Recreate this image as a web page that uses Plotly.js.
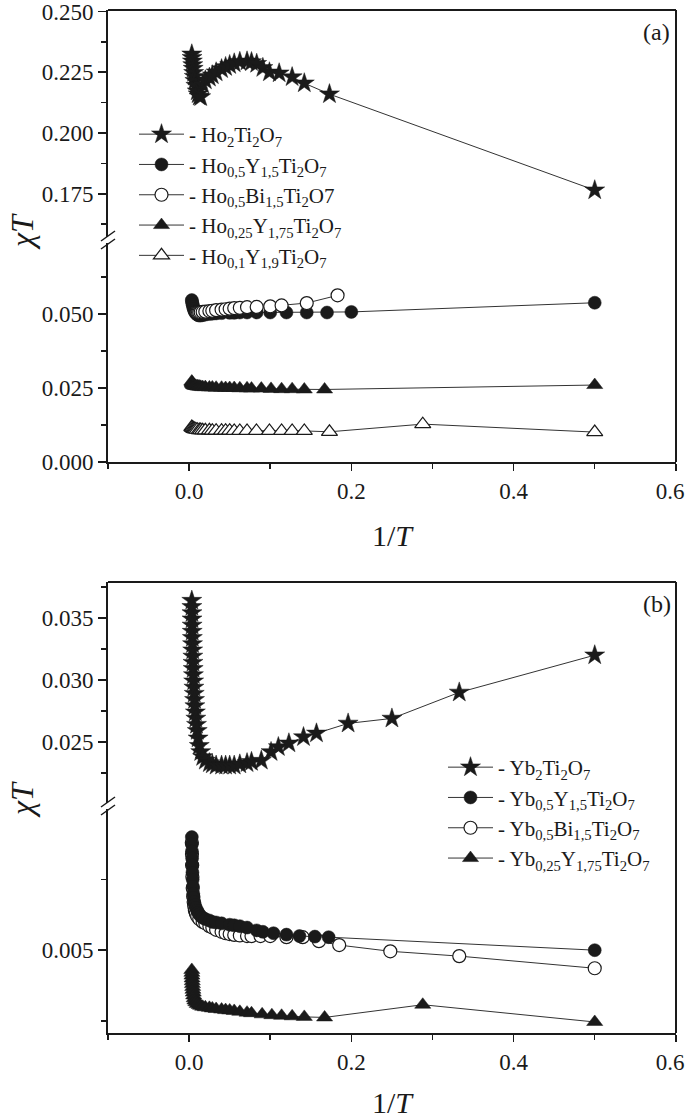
<!DOCTYPE html>
<html>
<head>
<meta charset="utf-8">
<script src="https://cdn.plot.ly/plotly-3.0.1.min.js"></script>
<style>html,body{margin:0;padding:0;background:#fff;}#chart{width:685px;height:1119px;}</style>
</head>
<body>
<div id="chart"></div>
<script>
// ---------- Panel (a) data ----------
const ho2_x = [0.0033,0.0036,0.004,0.0045,0.005,0.0056,0.0063,0.0071,0.0083,0.01,0.0111,0.0125,0.0143,0.0167,0.02,0.025,0.0286,0.0333,0.04,0.045,0.05,0.0556,0.0625,0.0714,0.0769,0.0833,0.0909,0.099,0.111,0.127,0.142,0.173,0.5];
const ho2_y = [0.2324,0.2310,0.2295,0.2280,0.2265,0.2248,0.2232,0.2215,0.2195,0.2172,0.2160,0.2150,0.2148,0.2200,0.2217,0.2228,0.2238,0.2250,0.2263,0.2272,0.2280,0.2287,0.2293,0.2295,0.2292,0.2285,0.2268,0.2250,0.2246,0.2230,0.2205,0.2160,0.1765];

const ho05y_x = [0.0033,0.0036,0.004,0.0045,0.005,0.0056,0.0063,0.0071,0.0083,0.01,0.0111,0.0125,0.0143,0.0167,0.02,0.025,0.0286,0.0333,0.04,0.05,0.0556,0.0625,0.0714,0.0833,0.1,0.12,0.145,0.17,0.2,0.5];
const ho05y_y = [0.0547,0.0542,0.0536,0.0530,0.0524,0.0518,0.0512,0.0507,0.0502,0.0498,0.0496,0.0495,0.0495,0.0496,0.0498,0.0500,0.0501,0.0502,0.0503,0.0504,0.0504,0.0505,0.0505,0.0505,0.0505,0.0505,0.0505,0.0505,0.0507,0.0538];

const ho05bi_x = [0.0091,0.01,0.0111,0.0125,0.0143,0.0167,0.02,0.025,0.0286,0.0333,0.04,0.045,0.05,0.0556,0.0625,0.0714,0.0833,0.1,0.114,0.145,0.183];
const ho05bi_y = [0.0506,0.0505,0.0505,0.0505,0.0506,0.0507,0.0508,0.0510,0.0511,0.0513,0.0515,0.0516,0.0518,0.0520,0.0521,0.0523,0.0524,0.0526,0.0529,0.0537,0.0563];

const ho025_x = [0.0033,0.0036,0.004,0.0045,0.005,0.0056,0.0063,0.0071,0.0083,0.01,0.0111,0.0125,0.0143,0.0167,0.02,0.025,0.0286,0.0333,0.04,0.045,0.05,0.0556,0.0625,0.0714,0.0769,0.089,0.101,0.114,0.127,0.142,0.167,0.5];
const ho025_y = [0.0272,0.0269,0.0266,0.0264,0.0262,0.0260,0.0259,0.0258,0.0257,0.0256,0.0255,0.0255,0.0254,0.0253,0.0253,0.0252,0.0252,0.0251,0.0251,0.0250,0.0250,0.0250,0.0249,0.0249,0.0248,0.0248,0.0247,0.0246,0.0246,0.0245,0.0245,0.0260];

const ho01_x = [0.0033,0.004,0.005,0.006,0.0071,0.0083,0.01,0.0125,0.0143,0.0167,0.02,0.025,0.0286,0.0333,0.04,0.045,0.05,0.0556,0.0625,0.0714,0.083,0.099,0.114,0.127,0.142,0.173,0.288,0.5];
const ho01_y = [0.0118,0.0116,0.0114,0.0112,0.0111,0.0110,0.0109,0.0108,0.0108,0.0107,0.0107,0.0107,0.0106,0.0106,0.0106,0.0106,0.0106,0.0105,0.0105,0.0105,0.0105,0.0105,0.0105,0.0105,0.0105,0.0102,0.0128,0.0101];

// ---------- Panel (b) data ----------
const yb2_x = [0.0033,0.0034,0.0035,0.0036,0.0037,0.0038,0.004,0.0042,0.0044,0.0046,0.0048,0.005,0.0053,0.0056,0.0059,0.0063,0.0067,0.0071,0.0077,0.0083,0.0091,0.01,0.0111,0.0125,0.0143,0.0167,0.02,0.025,0.0286,0.0333,0.04,0.045,0.05,0.0556,0.0625,0.0714,0.0769,0.089,0.101,0.110,0.123,0.141,0.157,0.196,0.25,0.333,0.5];
const yb2_y = [0.0364,0.0359,0.0354,0.0349,0.0344,0.0339,0.0334,0.0329,0.0324,0.0319,0.0314,0.0309,0.0304,0.0299,0.0294,0.0289,0.0284,0.0279,0.0274,0.0269,0.0264,0.0259,0.0253,0.0247,0.0242,0.0238,0.0235,0.0233,0.0232,0.0231,0.0231,0.0231,0.0231,0.0231,0.0232,0.0233,0.0234,0.0235,0.0242,0.0246,0.0249,0.0254,0.0257,0.0265,0.0269,0.0290,0.0320];

const yb05y_x = [0.0033,0.0034,0.0035,0.0037,0.0039,0.0041,0.0044,0.0047,0.0051,0.0056,0.0063,0.0071,0.0083,0.01,0.0111,0.0125,0.0143,0.0167,0.02,0.025,0.0286,0.0333,0.04,0.05,0.0556,0.0625,0.0714,0.0833,0.0909,0.104,0.12,0.136,0.155,0.172,0.5];
const yb05y_y = [0.0090,0.00875,0.0085,0.00825,0.0080,0.00775,0.0075,0.00725,0.0070,0.00685,0.0067,0.0066,0.0065,0.0064,0.00633,0.00627,0.0062,0.00615,0.0061,0.00605,0.0060,0.00598,0.00595,0.0059,0.00588,0.00585,0.0058,0.0057,0.00565,0.0056,0.00555,0.0055,0.00548,0.00546,0.0050];

const yb05bi_x = [0.0033,0.0035,0.0037,0.004,0.0044,0.005,0.0056,0.0063,0.0071,0.0083,0.01,0.0125,0.0167,0.02,0.025,0.0286,0.0333,0.04,0.045,0.05,0.0556,0.0625,0.0714,0.0769,0.088,0.1,0.12,0.14,0.16,0.185,0.248,0.333,0.5];
const yb05bi_y = [0.0088,0.0084,0.0080,0.0076,0.0072,0.0069,0.0067,0.00655,0.0064,0.0063,0.0062,0.0061,0.0060,0.00595,0.00585,0.0058,0.00572,0.00565,0.0056,0.00557,0.00554,0.00552,0.0055,0.0055,0.0055,0.0055,0.00546,0.00546,0.00532,0.00518,0.00496,0.00479,0.00436];

const yb025_x = [0.0033,0.0034,0.0035,0.0037,0.0039,0.0041,0.0044,0.0047,0.0051,0.0056,0.0063,0.0071,0.0083,0.01,0.0125,0.0143,0.0167,0.02,0.025,0.0286,0.0333,0.04,0.045,0.05,0.0556,0.0625,0.0714,0.0769,0.09,0.102,0.114,0.127,0.142,0.167,0.288,0.5];
const yb025_y = [0.0043,0.0042,0.0041,0.0040,0.0039,0.0038,0.0037,0.0036,0.0035,0.0034,0.0033,0.00322,0.00316,0.0031,0.00306,0.00303,0.0030,0.00298,0.00296,0.00294,0.00292,0.0029,0.00288,0.00287,0.00285,0.00282,0.00279,0.00277,0.00273,0.0027,0.00268,0.00266,0.00264,0.00262,0.00307,0.00246];

// ---------- Labels ----------
const namesA = ['- Ho<sub>2</sub>Ti<sub>2</sub>O<sub>7</sub>','- Ho<sub>0,5</sub>Y<sub>1,5</sub>Ti<sub>2</sub>O<sub>7</sub>','- Ho<sub>0,5</sub>Bi<sub>1,5</sub>Ti<sub>2</sub>O7','- Ho<sub>0,25</sub>Y<sub>1,75</sub>Ti<sub>2</sub>O<sub>7</sub>','- Ho<sub>0,1</sub>Y<sub>1,9</sub>Ti<sub>2</sub>O<sub>7</sub>'];
const namesB = ['- Yb<sub>2</sub>Ti<sub>2</sub>O<sub>7</sub>','- Yb<sub>0,5</sub>Y<sub>1,5</sub>Ti<sub>2</sub>O<sub>7</sub>','- Yb<sub>0,5</sub>Bi<sub>1,5</sub>Ti<sub>2</sub>O<sub>7</sub>','- Yb<sub>0,25</sub>Y<sub>1,75</sub>Ti<sub>2</sub>O<sub>7</sub>'];
const xTickVals = [0, 0.2, 0.4, 0.6];
const xTickText = ['0.0','0.2','0.4','0.6\u2002'];

// ---------- helpers (layout positions) ----------
const W = 685, H = 1119;
const PX = v => v / W;
const PY = v => 1 - v / H;
const FONT = "'Liberation Serif'";
const INK = '#1a1a1a';

function tr(x, y, name, sym, fill, xa, ya, leg, grp, size) {
  return {
    x: x, y: y, name: name, type: 'scatter', mode: 'lines+markers',
    xaxis: xa, yaxis: ya, legend: leg, legendgroup: grp,
    line: {color: '#333', width: 1},
    marker: {symbol: sym, size: size || 13, color: fill, line: {color: INK, width: fill === 'white' ? 1.2 : 0.5}}
  };
}

const data = [
  tr(ho2_x, ho2_y, namesA[0], 'star', INK, 'x', 'y2', 'legend', 'a1', 15),
  tr(ho05y_x, ho05y_y, namesA[1], 'circle', INK, 'x', 'y', 'legend', 'a2'),
  tr(ho05bi_x, ho05bi_y, namesA[2], 'circle', 'white', 'x', 'y', 'legend', 'a3'),
  tr(ho025_x, ho025_y, namesA[3], 'triangle-up', INK, 'x', 'y', 'legend', 'a4', 14),
  tr(ho01_x, ho01_y, namesA[4], 'triangle-up', 'white', 'x', 'y', 'legend', 'a5', 14),
  tr(yb2_x, yb2_y, namesB[0], 'star', INK, 'x2', 'y4', 'legend2', 'b1', 15),
  tr(yb05bi_x, yb05bi_y, namesB[2], 'circle', 'white', 'x2', 'y3', 'legend2', 'b3'),
  tr(yb05y_x, yb05y_y, namesB[1], 'circle', INK, 'x2', 'y3', 'legend2', 'b2'),
  tr(yb025_x, yb025_y, namesB[3], 'triangle-up', INK, 'x2', 'y3', 'legend2', 'b4', 14)
];
data[5].legendrank = 1; data[7].legendrank = 2; data[6].legendrank = 3; data[8].legendrank = 4;

const tickFont = {family: FONT, size: 23, color: INK};
function xax(anchor, standoff) {
  return {
    domain: [PX(108), PX(676)], range: [-0.1, 0.6002], anchor: anchor,
    tickmode: 'array', tickvals: xTickVals, ticktext: xTickText,
    ticks: 'outside', ticklen: 7, tickwidth: 1.5, tickcolor: INK, ticklabeloverflow: 'allow',
    minor: {tickmode: 'array', tickvals: [-0.1, 0.1, 0.3, 0.5], ticks: 'outside', ticklen: 5, tickwidth: 1.5, tickcolor: INK},
    showline: true, linewidth: 2, linecolor: INK, showgrid: false, zeroline: false,
    tickfont: tickFont, fixedrange: true,
    title: {text: '1/<i>T</i>', font: {family: FONT, size: 30, color: INK}, standoff: standoff}
  };
}
function yax(dom, range, tv, tt, mv, anchor) {
  return {
    domain: [PY(dom[0]), PY(dom[1])], range: range, anchor: anchor,
    tickmode: 'array', tickvals: tv, ticktext: tt,
    ticks: 'outside', ticklen: 8, tickwidth: 1.5, tickcolor: INK, ticklabeloverflow: 'allow',
    minor: {tickmode: 'array', tickvals: mv, ticks: 'outside', ticklen: 5, tickwidth: 1.5, tickcolor: INK},
    showline: true, linewidth: 2, linecolor: INK, showgrid: false, zeroline: false,
    tickfont: tickFont, fixedrange: true
  };
}

function seg(x0, y0, x1, y1, w, c) {
  return {type: 'line', xref: 'paper', yref: 'paper', x0: PX(x0), y0: PY(y0), x1: PX(x1), y1: PY(y1), line: {color: c || INK, width: w || 2}};
}
function breakMarks(yc) {
  return [
    {type: 'rect', xref: 'paper', yref: 'paper', x0: PX(104), x1: PX(112), y0: PY(yc + 3), y1: PY(yc - 3), fillcolor: 'white', line: {width: 0}},
    seg(101, yc + 1, 115, yc - 9, 1.5),
    seg(101, yc + 9, 115, yc - 1, 1.5)
  ];
}
function note(text, x, y, size, angle) {
  return {text: text, xref: 'paper', yref: 'paper', x: PX(x), y: PY(y), xanchor: 'center', yanchor: 'middle',
          showarrow: false, textangle: angle || 0, font: {family: FONT, size: size, color: INK}};
}

const layout = {
  width: W, height: H,
  margin: {l: 0, r: 0, t: 0, b: 0},
  paper_bgcolor: 'white', plot_bgcolor: 'white',
  font: {family: FONT, color: INK},
  showlegend: true,
  xaxis: xax('y', 22),
  xaxis2: xax('y3', 18),
  yaxis: yax([462, 240], [0, 0.075], [0, 0.025, 0.05], ['0.000', '0.025', '0.050'], [0.0125, 0.0375, 0.0625], 'x'),
  yaxis2: yax([240, 10], [0.156, 0.2506], [0.175, 0.2, 0.225, 0.25], ['0.175', '0.200', '0.225', '0.250'], [0.1625, 0.1875, 0.2125, 0.2375], 'x'),
  yaxis3: yax([1033, 806], [0.00207, 0.0101], [0.005], ['0.005'], [0.0025, 0.0075], 'x2'),
  yaxis4: yax([806, 582], [0.01984, 0.0379], [0.025, 0.03, 0.035], ['0.025', '0.030', '0.035'], [0.0225, 0.0275, 0.0325, 0.0375], 'x2'),
  legend: {x: PX(134), y: PY(114), xanchor: 'left', yanchor: 'top', bgcolor: 'rgba(0,0,0,0)', borderwidth: 0,
           font: {family: FONT, size: 21, color: INK}, tracegroupgap: 0, itemwidth: 45, traceorder: 'normal'},
  legend2: {x: PX(443), y: PY(747), xanchor: 'left', yanchor: 'top', bgcolor: 'rgba(0,0,0,0)', borderwidth: 0,
            font: {family: FONT, size: 21, color: INK}, tracegroupgap: 1, itemwidth: 45, traceorder: 'normal'},
  shapes: [
    seg(108, 10, 676, 10), seg(676, 10, 676, 462),
    seg(108, 582, 676, 582), seg(676, 582, 676, 1033)
  ].concat(breakMarks(240), breakMarks(806)),
  annotations: [
    note('(a)', 656, 32, 24),
    note('(b)', 657, 604, 24),
    note('<i>χT</i>', 22, 232, 32, -90),
    note('<i>χT</i>', 22, 800, 32, -90)
  ]
};

Plotly.newPlot('chart', data, layout, {staticPlot: true, displayModeBar: false});
</script>
</body>
</html>
